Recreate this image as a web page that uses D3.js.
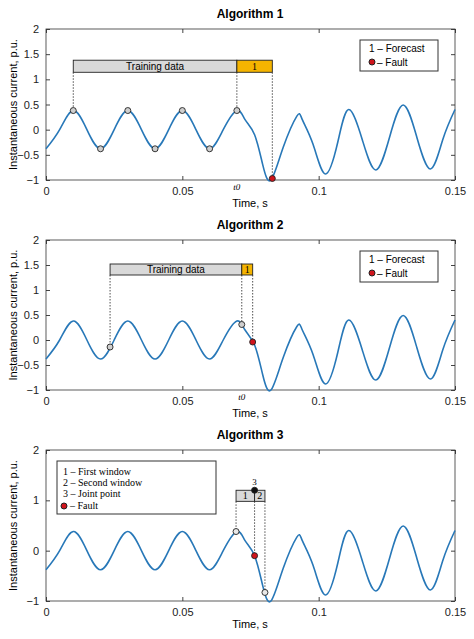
<!DOCTYPE html>
<html><head><meta charset="utf-8">
<script src="https://cdn.jsdelivr.net/npm/d3@7"></script>
<style>body{margin:0;background:#fff}svg{font-family:"Liberation Sans",Arial,sans-serif}</style>
</head><body><div id="chart"></div>
<script>
"use strict"

// waveform extrema / key points (t in s, current in p.u.)
const waveT = [0, 0.005, 0.01, 0.015, 0.02, 0.025, 0.03, 0.035, 0.04, 0.045, 0.05, 0.055, 0.06, 0.065, 0.07, 0.073, 0.0765, 0.0795, 0.0825, 0.087, 0.092, 0.094, 0.098, 0.1025, 0.107, 0.111, 0.116, 0.121, 0.126, 0.131, 0.136, 0.141, 0.1455, 0.15];
const waveI = [-0.38, 0, 0.38, 0, -0.38, 0, 0.38, 0, -0.38, 0, 0.38, 0, -0.38, 0, 0.38, 0.2, -0.1, -0.7, -1.0, -0.35, 0.27, 0.2, -0.3, -0.88, -0.25, 0.4, -0.2, -0.8, -0.15, 0.49, -0.15, -0.78, -0.2, 0.4];

const xTicks = [0, 0.05, 0.1, 0.15];
const xTickLabels = ["0", "0.05", "0.1", "0.15"];
const yTicks1 = [-1, -0.5, 0, 0.5, 1, 1.5, 2];
const yTicks3 = [-1, 0, 1, 2];

const titles = ["Algorithm 1", "Algorithm 2", "Algorithm 3"];

// panel 1
const p1Train = [0.01, 0.07, 1.14, 1.38];
const p1Fore = [0.07, 0.083];
const p1GreyT = [0.01, 0.02, 0.03, 0.04, 0.05, 0.06, 0.07];
const p1GreyI = [0.38, -0.38, 0.38, -0.38, 0.38, -0.38, 0.38];
const p1Fault = [0.083, -0.97];
const p1Drops = [[0.01, 0.38], [0.07, 0.38], [0.083, -0.97]];

// panel 2
const p2Train = [0.0235, 0.0718, 1.3, 1.52];
const p2Fore = [0.0718, 0.0758];
const p2GreyT = [0.0235, 0.0718];
const p2GreyI = [-0.14, 0.31];
const p2Fault = [0.0758, -0.04];
const p2Drops = [[0.0235, -0.14], [0.0718, 0.31], [0.0758, -0.04]];

// panel 3
const p3Win1 = [0.0697, 0.0765, 0.98, 1.2];
const p3Win2 = [0.0765, 0.0803];
const p3Joint = [0.0765, 1.2];
const p3GreyT = [0.0697, 0.0803];
const p3GreyI = [0.38, -0.83];
const p3Fault = [0.0765, -0.1];
const p3Drops = [[0.0697, 0.38], [0.0765, -0.1], [0.0803, -0.83]];

const W = 474, H = 639;
const svg = d3.select("#chart").append("svg").attr("width", W).attr("height", H);
const wave = waveT.map((t, i) => [t, waveI[i]]);

function panel(top, bottom, title, yTicks) {
  const x = d3.scaleLinear().domain([0, 0.15]).range([46, 455]);
  const y = d3.scaleLinear().domain([-1, 2]).range([bottom, top]);
  const g = svg.append("g");
  g.append("text").attr("x", 250).attr("y", top - 11).attr("text-anchor", "middle")
    .attr("font-size", 12).attr("font-weight", "bold").text(title);
  g.append("g").attr("transform", "translate(0," + bottom + ")")
    .call(d3.axisBottom(x).tickValues(xTicks).tickFormat((d, i) => xTickLabels[i]).tickSize(-4).tickPadding(7))
    .call(a => a.select(".domain").remove());
  g.append("g").attr("transform", "translate(0," + top + ")")
    .call(d3.axisTop(x).tickValues(xTicks).tickFormat("").tickSize(-4))
    .call(a => a.select(".domain").remove());
  g.append("g").attr("transform", "translate(46,0)")
    .call(d3.axisLeft(y).tickValues(yTicks).tickFormat(d3.format("")).tickSize(-4).tickPadding(7))
    .call(a => a.select(".domain").remove());
  g.append("g").attr("transform", "translate(455,0)")
    .call(d3.axisRight(y).tickValues(yTicks).tickFormat("").tickSize(-4))
    .call(a => a.select(".domain").remove());
  g.selectAll(".tick text").attr("font-size", 11).attr("fill", "#222").attr("font-family", "Liberation Sans, Arial");
  g.selectAll(".tick line").attr("stroke", "#444");
  g.append("rect").attr("x", 46).attr("y", top).attr("width", 409).attr("height", bottom - top)
    .attr("fill", "none").attr("stroke", "#333").attr("stroke-width", 0.8);
  g.append("text").attr("transform", "translate(17," + (top + bottom) / 2 + ") rotate(-90)")
    .attr("text-anchor", "middle").attr("font-size", 11).text("Instantaneous current, p.u.");
  g.append("text").attr("x", 250).attr("y", bottom + 27).attr("text-anchor", "middle")
    .attr("font-size", 11).text("Time, s");
  const line = d3.line().x(d => x(d[0])).y(d => y(d[1])).curve(d3.curveNatural);
  g.append("path").datum(wave).attr("d", line).attr("fill", "none")
    .attr("stroke", "#2878b8").attr("stroke-width", 1.6);
  return { g, x, y };
}

function drops(p, pts, yTop) {
  p.g.selectAll(null).data(pts).enter().append("line")
    .attr("x1", d => p.x(d[0])).attr("x2", d => p.x(d[0]))
    .attr("y1", p.y(yTop)).attr("y2", d => p.y(d[1]))
    .attr("stroke", "#222").attr("stroke-width", 0.8).attr("stroke-dasharray", "1.5,1.5");
}
function box(p, x0, x1, y0, y1, fill, label, font) {
  p.g.append("rect").attr("x", p.x(x0)).attr("y", p.y(y1)).attr("width", p.x(x1) - p.x(x0))
    .attr("height", p.y(y0) - p.y(y1)).attr("fill", fill).attr("stroke", "#222").attr("stroke-width", 0.9);
  p.g.append("text").attr("x", (p.x(x0) + p.x(x1)) / 2).attr("y", (p.y(y0) + p.y(y1)) / 2 + 3.5)
    .attr("text-anchor", "middle").attr("font-size", 10).attr("font-family", font).text(label);
}
function dots(p, ts, is, fill, stroke) {
  p.g.selectAll(null).data(ts).enter().append("circle")
    .attr("cx", d => p.x(d)).attr("cy", (d, i) => p.y(is[i])).attr("r", 3)
    .attr("fill", fill).attr("stroke", stroke || "#222").attr("stroke-width", 0.9);
}
function t0(p, t, bottom) {
  p.g.append("text").attr("x", p.x(t)).attr("y", bottom + 10).attr("text-anchor", "middle")
    .attr("font-size", 9).attr("font-style", "italic").attr("font-family", "Liberation Serif").text("t0");
}
function legendAB(p, x0, y0) {
  p.g.append("rect").attr("x", x0).attr("y", y0).attr("width", 78).attr("height", 31)
    .attr("fill", "#fff").attr("stroke", "#333");
  p.g.append("text").attr("x", x0 + 9).attr("y", y0 + 12).attr("font-size", 10).text("1 \u2013 Forecast");
  p.g.append("circle").attr("cx", x0 + 12).attr("cy", y0 + 22).attr("r", 3).attr("fill", "#d0141c").attr("stroke", "#222");
  p.g.append("text").attr("x", x0 + 17).attr("y", y0 + 26).attr("font-size", 10).text("\u2013 Fault");
}

// panel 1
const pa = panel(29, 180, titles[0], yTicks1);
drops(pa, p1Drops, p1Train[2]);
box(pa, p1Train[0], p1Train[1], p1Train[2], p1Train[3], "#d9d9d9", "Training data", "Liberation Sans");
box(pa, p1Fore[0], p1Fore[1], p1Train[2], p1Train[3], "#f5b400", "1", "Liberation Serif");
dots(pa, p1GreyT, p1GreyI, "#cfcfcf");
dots(pa, [p1Fault[0]], [p1Fault[1]], "#d0141c");
t0(pa, p1Train[1], 180);
legendAB(pa, 360, 40);

// panel 2
const pb = panel(240, 390, titles[1], yTicks1);
drops(pb, p2Drops, p2Train[2]);
box(pb, p2Train[0], p2Train[1], p2Train[2], p2Train[3], "#d9d9d9", "Training data", "Liberation Sans");
box(pb, p2Fore[0], p2Fore[1], p2Train[2], p2Train[3], "#f5b400", "1", "Liberation Serif");
dots(pb, p2GreyT, p2GreyI, "#cfcfcf");
dots(pb, [p2Fault[0]], [p2Fault[1]], "#d0141c");
t0(pb, p2Train[1], 390);
legendAB(pb, 360, 251);

// panel 3
const pc = panel(450, 601, titles[2], yTicks3);
drops(pc, p3Drops, p3Win1[2]);
box(pc, p3Win1[0], p3Win1[1], p3Win1[2], p3Win1[3], "#d9d9d9", "1", "Liberation Serif");
box(pc, p3Win2[0], p3Win2[1], p3Win1[2], p3Win1[3], "#d9d9d9", "2", "Liberation Serif");
dots(pc, [p3Joint[0]], [p3Joint[1]], "#111");
pc.g.append("text").attr("x", pc.x(p3Joint[0])).attr("y", pc.y(p3Joint[1]) - 5).attr("text-anchor", "middle")
  .attr("font-size", 9).attr("font-family", "Liberation Serif").text("3");
dots(pc, p3GreyT, p3GreyI, "#e8e8e8");
dots(pc, [p3Fault[0]], [p3Fault[1]], "#d0141c");
const leg3 = ["1 \u2013 First window", "2 \u2013 Second window", "3 \u2013 Joint point"];
pc.g.append("rect").attr("x", 57).attr("y", 461).attr("width", 159).attr("height", 53).attr("fill", "#fff").attr("stroke", "#333");
pc.g.selectAll(null).data(leg3).enter().append("text").attr("x", 63).attr("y", (d, i) => 475 + i * 11)
  .attr("font-size", 10).attr("font-family", "Liberation Serif").text(d => d);
pc.g.append("circle").attr("cx", 64).attr("cy", 506).attr("r", 3).attr("fill", "#d0141c").attr("stroke", "#222");
pc.g.append("text").attr("x", 70).attr("y", 509).attr("font-size", 10).attr("font-family", "Liberation Serif").text("\u2013 Fault");
</script></body></html>
